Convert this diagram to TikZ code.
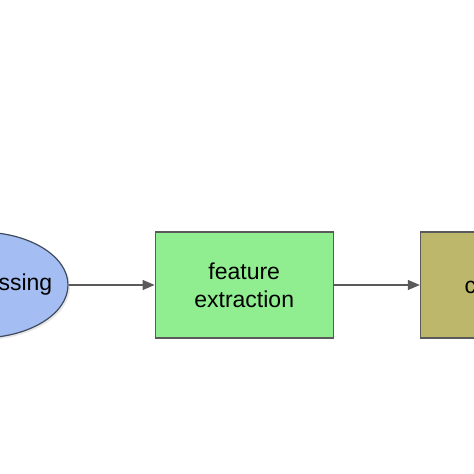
\documentclass[tikz,border=0pt]{standalone}
\usepackage{fontspec}
\setmainfont{Liberation Sans}
\usetikzlibrary{positioning}
\usetikzlibrary{shapes}
\usetikzlibrary{shadows}
\usetikzlibrary{arrows.meta}

\definecolor{prepblue}{HTML}{A4BDF2}
\definecolor{prepedge}{HTML}{3F4B5E}
\definecolor{featgreen}{HTML}{90EE90}
\definecolor{classolive}{HTML}{BDB76B}
\definecolor{edgegray}{HTML}{5A5A5A}

\begin{document}
\begin{tikzpicture}[auto,node distance=86pt,on grid=false,
    x=1pt,y=1pt,
    every node/.style={font=\fontsize{23}{28}\selectfont,align=center},
    stage/.style={draw=edgegray,line width=1.2pt,rectangle,
        minimum width=178pt,minimum height=106pt,inner sep=0pt},
    flow/.style={draw=edgegray,line width=1.2pt,
        -{Triangle[length=12pt,width=10pt]}}]
                    \useasboundingbox (0,0) rectangle (474,474);
                    % Place nodes
                    \node [ellipse,draw=prepedge,fill=prepblue,line width=1.2pt,
                        inner sep=0pt,minimum width=176pt,minimum height=106pt,
                        drop shadow={shadow xshift=2pt,shadow yshift=-2pt,fill=gray!35}]
                        (prep) at (-20,189) {\makebox[0pt]{preprocessing}};
                    \node [stage,fill=featgreen,right=of prep] (feat) {feature\\extraction};
                    \node [stage,fill=classolive,right=of feat] (class) {classifier};

                    \draw [flow] (prep) -- (feat);
                    \draw [flow] (feat) -- (class);

                \end{tikzpicture}
\end{document}
